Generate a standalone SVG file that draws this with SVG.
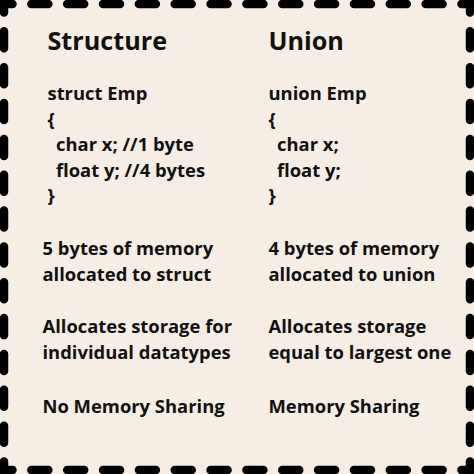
<svg xmlns="http://www.w3.org/2000/svg" width="474" height="474" viewBox="0 0 474 474">
<style>
text{font-family:"Open Sans","Liberation Sans",sans-serif;font-weight:700;fill:#111}
.h{font-size:25.2px}
.t{font-size:18.4px}
</style>
<rect x="0" y="0" width="474" height="474" fill="#F6EDE4"/>
<rect id="border" x="4" y="4" width="466" height="466" fill="none" stroke="#000" stroke-width="8.5" stroke-linecap="round" stroke-dasharray="17 18.846" stroke-dashoffset="8.5"/>
<g id="structure">
<text class="h" x="47.5" y="50">Structure</text>
<text class="t" x="47.5" y="100">struct Emp</text>
<text class="t" x="47.5" y="125.5">{</text>
<text class="t" x="56" y="151">char x; //1 byte</text>
<text class="t" x="56" y="176.5">float y; //4 bytes</text>
<text class="t" x="47.5" y="202">}</text>
<text class="t" x="42.5" y="255">5 bytes of memory</text>
<text class="t" x="42.5" y="281">allocated to struct</text>
<text class="t" x="42.5" y="333">Allocates storage for</text>
<text class="t" x="42.5" y="359">individual datatypes</text>
<text class="t" x="42.5" y="413">No Memory Sharing</text>
</g>
<g id="union">
<text class="h" x="268.5" y="50">Union</text>
<text class="t" x="268.5" y="100">union Emp</text>
<text class="t" x="268.5" y="125.5">{</text>
<text class="t" x="277" y="151">char x;</text>
<text class="t" x="277" y="176.5">float y;</text>
<text class="t" x="268.5" y="202">}</text>
<text class="t" x="268.5" y="255">4 bytes of memory</text>
<text class="t" x="268.5" y="281">allocated to union</text>
<text class="t" x="268.5" y="333">Allocates storage</text>
<text class="t" x="268.5" y="359">equal to largest one</text>
<text class="t" x="268.5" y="413">Memory Sharing</text>
</g>
<g id="connectors"></g>
</svg>
